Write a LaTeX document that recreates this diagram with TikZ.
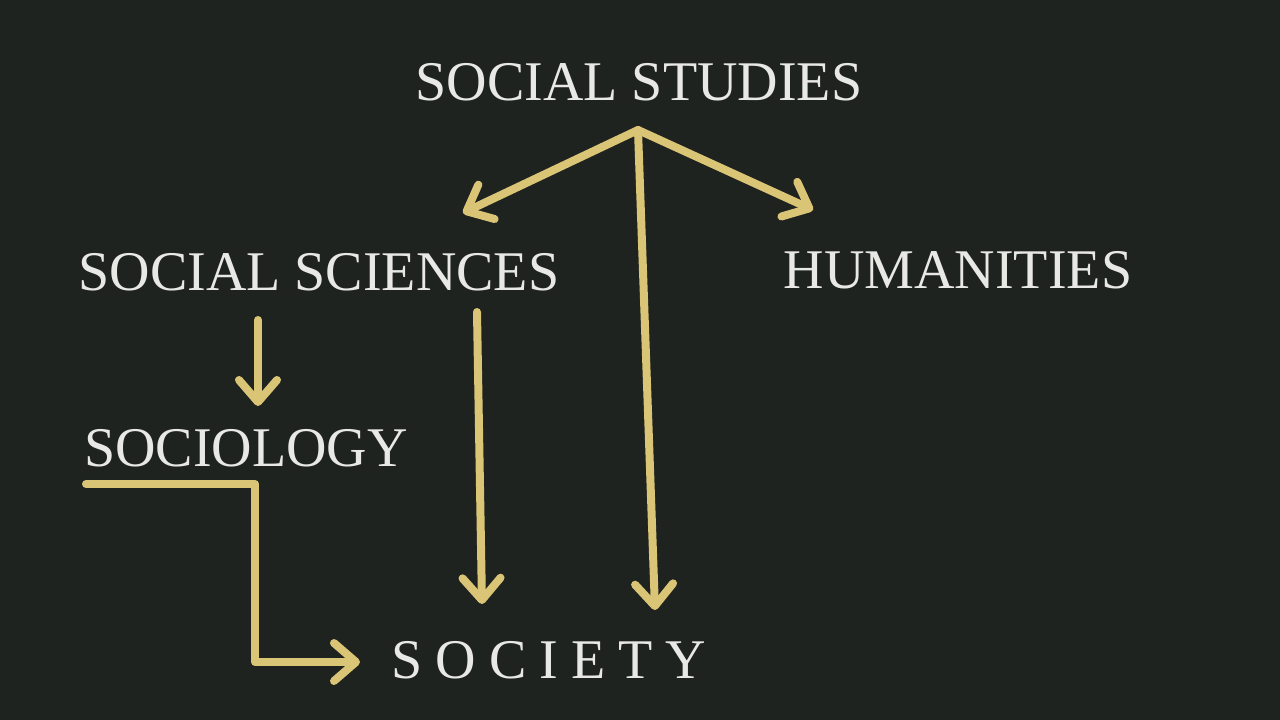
\documentclass[tikz,border=0pt]{standalone}
\usepackage{fontspec}
\setmainfont{Liberation Serif}
\usetikzlibrary{arrows.meta}
\definecolor{board}{RGB}{31,35,32}
\definecolor{chalk}{RGB}{232,232,228}
\definecolor{stick}{RGB}{218,196,118}
\begin{document}
\begin{tikzpicture}[x=1pt,y=-1pt,
  label/.style={text=chalk,inner sep=0pt,anchor=base,font=\fontsize{56}{60}\selectfont},
  stickarrow/.style={draw=stick,line width=8pt,line cap=round,line join=round,
    -{Straight Barb[length=22pt,width=38pt,round]}},
  stickline/.style={draw=stick,line width=8pt,line cap=round,line join=round}]
\fill[board] (0,0) rectangle (1280,720);
\useasboundingbox (0,0) rectangle (1280,720);
\node[label] (studies) at (639,100) {SOCIAL STUDIES};
\node[label] (sciences) at (319,290) {SOCIAL SCIENCES};
\node[label] (humanities) at (958,288) {HUMANITIES};
\node[label] (sociology) at (246,466) {SOCIOLOGY};
\node[label] (society) at (549,678) {S\hspace{13pt}O\hspace{13pt}C\hspace{13pt}I\hspace{13pt}E\hspace{13pt}T\hspace{13pt}Y};
\coordinate (apex) at (638,130);
\coordinate (leftTip) at (463,213);
\coordinate (rightTip) at (813,210);
\coordinate (midTip) at (655,610);
\coordinate (sciStart) at (477,312);
\coordinate (sciTip) at (482,604);
\coordinate (socStart) at (258,320);
\coordinate (socTip) at (258,406);
\coordinate (elbowA) at (86,484);
\coordinate (elbowB) at (255,484);
\coordinate (elbowC) at (255,662);
\coordinate (elbowTip) at (360,662);
\draw[stickarrow] (apex) -- (leftTip);
\draw[stickarrow] (apex) -- (rightTip);
\draw[stickarrow] (apex) -- (midTip);
\draw[stickarrow] (sciStart) -- (sciTip);
\draw[stickarrow] (socStart) -- (socTip);
\draw[stickarrow] (elbowA) -- (elbowB) -- (elbowC) -- (elbowTip);
\end{tikzpicture}
\end{document}
